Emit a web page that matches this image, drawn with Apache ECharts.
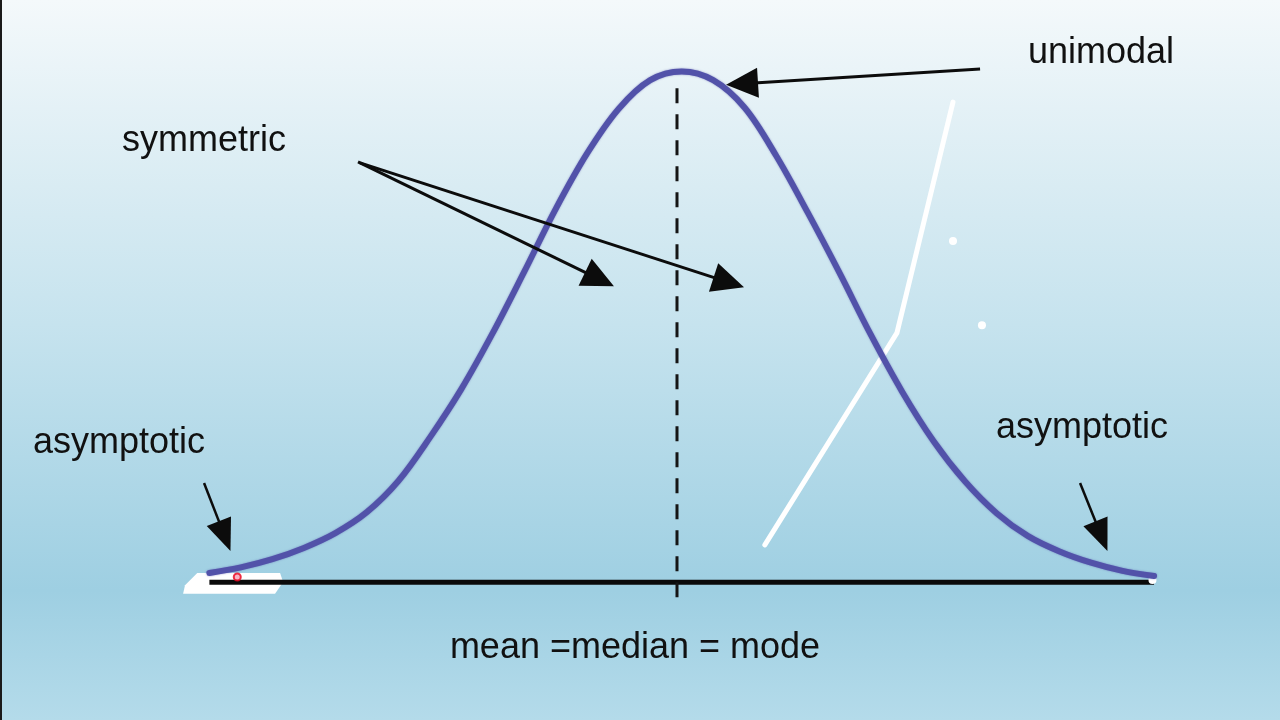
<!DOCTYPE html>
<html><head><meta charset="utf-8">
<script src="https://cdn.jsdelivr.net/npm/echarts@6/dist/echarts.min.js"></script>
<style>html,body{margin:0;padding:0;overflow:hidden;background:#fff}#c{width:1280px;height:720px}</style>
</head><body><div id="c"></div>
<script>
// Normal curve: x in standard deviations, y relative height (peak = 1)
const curveX = [-3.0,-2.8,-2.6,-2.4,-2.2,-2.0,-1.8,-1.6,-1.4,-1.2,-1.0,-0.8,-0.6,-0.4,-0.2,0.0,0.2,0.4,0.6,0.8,1.0,1.2,1.4,1.6,1.8,2.0,2.2,2.4,2.6,2.8,3.0];
const curveY = [0.018,0.029,0.045,0.067,0.096,0.137,0.198,0.283,0.378,0.488,0.608,0.731,0.840,0.927,0.983,1.000,0.983,0.929,0.835,0.724,0.607,0.485,0.373,0.276,0.197,0.135,0.090,0.060,0.038,0.022,0.012];
// Horizontal axis line
const baselineX = [-3.0, 3.0];
const baselineY = [0, 0];
// Mean = median = mode dashed line
const meanX = [-0.03, -0.03];
const meanY = [0.967, -0.041];
// Annotation arrows (from -> arrow head centre)
const arrowFromX = [1.895, -2.056, -2.043, -3.034, 2.530];
const arrowFromY = [1.005, 0.823, 0.821, 0.194, 0.194];
const arrowToX   = [0.383, -0.522, 0.299, -2.903, 2.666];
const arrowToY   = [0.976, 0.593, 0.587, 0.090, 0.090];
const arrowWidth = [3, 3, 3, 2.5, 2.5];
// White stroke artefacts on the slide
const whiteLineX = [0.528, 1.367, 1.723];
const whiteLineY = [0.073, 0.488, 0.940];
const whiteDotX = [1.723, 1.907, 2.99];
const whiteDotY = [0.668, 0.503, 0.004];
const whitePatchX = [-3.077, -2.551, -2.532, -2.583, -3.167, -3.155];
const whitePatchY = [0.018, 0.018, 0.0002, -0.023, -0.023, -0.006];
const redRingX = [-2.823];
const redRingY = [0.010];
// Labels
const labelTexts = ['unimodal', 'symmetric', 'asymptotic', 'asymptotic', 'mean =median = mode'];

const zip = (a, b) => a.map((v, i) => [v, b[i]]);
const FONT = '"Liberation Sans", Arial, sans-serif';

const chart = echarts.init(document.getElementById('c'), null, {renderer: 'canvas'});

const arrowData = arrowFromX.map((x, i) => [
  {coord: [x, arrowFromY[i]], symbol: 'none', lineStyle: {width: arrowWidth[i], color: '#0c0c0c', type: 'solid'}},
  {coord: [arrowToX[i], arrowToY[i]], symbol: 'triangle', symbolSize: i >= 3 ? [26, 32] : [30, 32]}
]);

const labelPos = [
  {x: 1028, y: 53, align: 'left'},
  {x: 122, y: 141, align: 'left'},
  {x: 33, y: 443, align: 'left'},
  {x: 996, y: 428, align: 'left'},
  {x: 635, y: 648, align: 'center'}
];

chart.setOption({
  animation: false,
  backgroundColor: {
    type: 'linear', x: 0, y: 0, x2: 0, y2: 1,
    colorStops: [
      {offset: 0, color: '#f4f9fb'},
      {offset: 0.15, color: '#e4f1f6'},
      {offset: 0.45, color: '#c6e3ee'},
      {offset: 0.82, color: '#9ecfe2'},
      {offset: 1, color: '#b4dbea'}
    ]
  },
  grid: {left: 0, right: 0, top: 0, bottom: 0},
  xAxis: {type: 'value', min: -4.33, max: 3.80, show: false},
  yAxis: {type: 'value', min: -0.27, max: 1.14, show: false},
  series: [
    {
      type: 'custom', z: 1, silent: true,
      data: zip(whitePatchX, whitePatchY),
      renderItem: function (params, api) {
        if (params.dataIndex !== 0) return;
        const pts = whitePatchX.map((x, i) => api.coord([x, whitePatchY[i]]));
        return {type: 'polygon', shape: {points: pts}, style: {fill: '#ffffff'}};
      }
    },
    {
      type: 'line', z: 2, silent: true, symbol: 'none',
      data: zip(baselineX, baselineY),
      lineStyle: {color: '#0a0a0a', width: 5},
      markLine: {
        silent: true, animation: false,
        symbol: ['none', 'triangle'],
        symbolSize: [30, 32],
        label: {show: false},
        itemStyle: {color: '#0c0c0c'},
        lineStyle: {color: '#0c0c0c', width: 3, type: 'solid'},
        emphasis: {disabled: true},
        data: arrowData
      }
    },
    {
      type: 'line', z: 2, silent: true, symbol: 'none',
      data: zip(whiteLineX, whiteLineY),
      lineStyle: {color: '#ffffff', width: 5, cap: 'round', join: 'round'}
    },
    {
      type: 'scatter', z: 2, silent: true, symbol: 'circle', symbolSize: 8,
      data: zip(whiteDotX, whiteDotY),
      itemStyle: {color: '#ffffff', opacity: 1}
    },
    {
      type: 'line', z: 3, silent: true, symbol: 'none',
      data: zip(meanX, meanY),
      lineStyle: {color: '#151515', width: 3, type: [15, 11]}
    },
    {
      type: 'line', z: 4, silent: true, symbol: 'none', smooth: 0.35,
      data: zip(curveX, curveY),
      lineStyle: {color: '#5252a9', width: 6, shadowBlur: 2, shadowColor: 'rgba(82,82,169,0.6)', join: 'round', cap: 'round'}
    },
    {
      type: 'scatter', z: 5, silent: true, symbol: 'circle', symbolSize: 7,
      data: zip(redRingX, redRingY),
      itemStyle: {color: '#f7a0b4', borderColor: '#e8001c', borderWidth: 2}
    }
  ],
  graphic: [
    {type: 'rect', left: 0, top: 0, shape: {width: 2, height: 720}, style: {fill: '#1a1a1a'}, silent: true, z: 100}
  ].concat(labelTexts.map((t, i) => ({
    type: 'text', x: labelPos[i].x, y: labelPos[i].y, silent: true, z: 100,
    style: {text: t, fill: '#111111', font: '36px ' + FONT, textAlign: labelPos[i].align, textVerticalAlign: 'middle'}
  })))
});
</script>
</body></html>
